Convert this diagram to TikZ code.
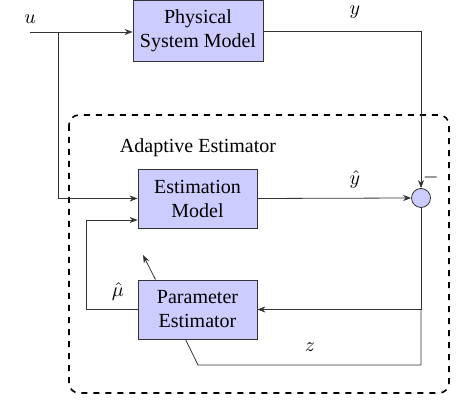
\documentclass[tikz,border=0pt]{standalone}
\usepackage{fontspec}
\setmainfont{Liberation Serif}
\usetikzlibrary{arrows.meta}
\begin{document}
\begin{tikzpicture}[
            x=0.5pt, y=-0.5pt,
            bloco/.style={shape=rectangle, draw=black!80, fill=blue!20, align=center, minimum width=59.5pt, minimum height=29.5pt, inner sep=1pt},
            soma/.style={shape=circle, draw=black!80, fill=blue!20, minimum size=9.5pt, inner sep=0pt},
            sinal/.style={draw=black!80, -{Stealth[length=4pt, width=3pt]}},
            fio/.style={draw=black!80},
            caixa/.style={dashed, thick, rounded corners=5pt},
        ]
        \useasboundingbox (0, 0) rectangle (474, 415);

        \node[bloco, minimum width=65pt, minimum height=30.5pt] (psm) at (198, 31) {Physical\\System Model};
        \node[bloco] (em) at (197.5, 198.5) {Estimation\\Model};
        \node[bloco] (pe) at (197.5, 309.5) {Parameter\\Estimator};
        \node[soma] (sum) at (421, 198) {};

        \coordinate (u) at (30, 32);
        \coordinate (ramo) at (58, 32);
        \coordinate (mucanto) at (86, 220);
        \coordinate (zcanto) at (421, 365);
        \coordinate (zfim) at (198, 365);
        \coordinate (adapt) at (143, 255);

        \draw[caixa] (69, 115) rectangle (449, 393);
        \node (ae) at (198, 148) {Adaptive Estimator};

        \draw[sinal] (u) -- (u -| psm.west);
        \draw[sinal] (ramo) |- (em.west);
        \draw[sinal] (psm.east) -| (sum.north);
        \draw[sinal] (em.east) -- (sum.west);
        \draw[sinal] (sum.south) -- (sum.south |- pe.east) -- (pe.east);
        \draw[fio] (sum.south |- pe.east) -- (zcanto) -- (zfim) -- ([xshift=-6pt]pe.south);
        \draw[sinal] (pe.west) -| (mucanto) -- (mucanto -| em.west);
        \draw[sinal] ([xshift=-21pt]pe.north) -- (adapt);

        \node at (30, 19) {$u$};
        \node at (355, 12) {$y$};
        \node at (355, 180) {$\hat{y}$};
        \node at (431, 178) {$-$};
        \node at (118, 292) {$\hat{\mu}$};
        \node at (310, 347) {$z$};
    \end{tikzpicture}
\end{document}
